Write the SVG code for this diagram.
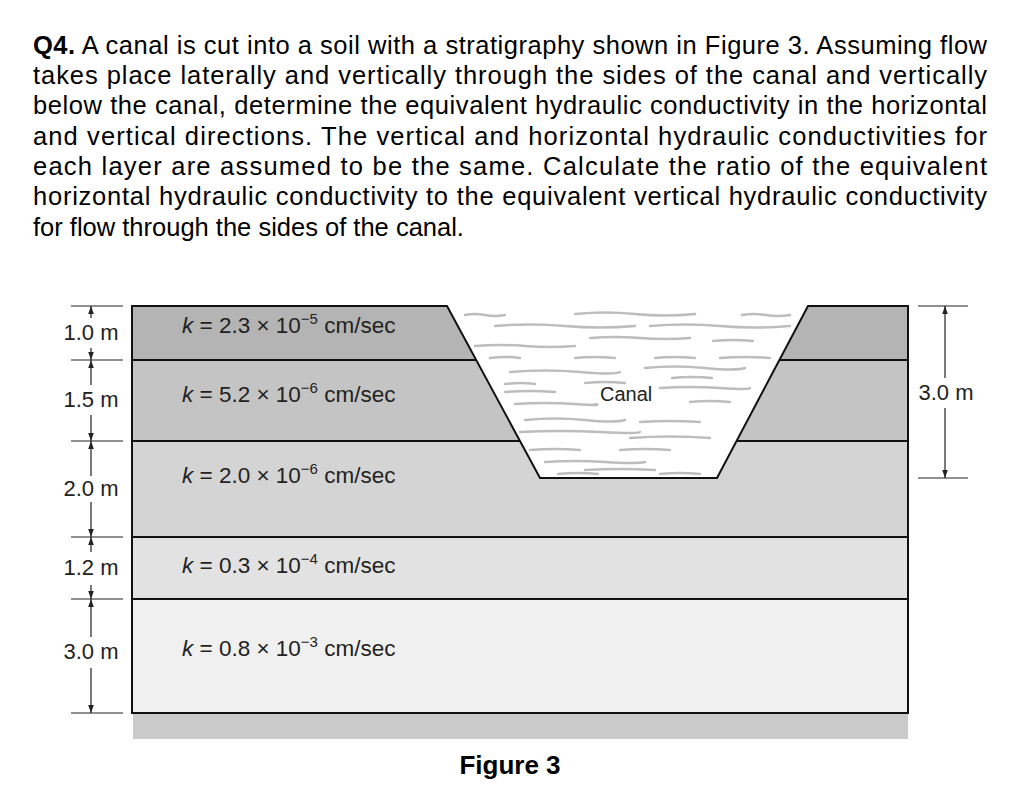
<svg xmlns="http://www.w3.org/2000/svg" width="1024" height="800" viewBox="0 0 1024 800">
<defs>
<marker id="ah" viewBox="0 0 10 10" refX="10" refY="5" markerWidth="7" markerHeight="7" orient="auto-start-reverse"><path d="M0,1.5 L10,5 L0,8.5 z" fill="#222"/></marker>
<style>
.lay{stroke:#111;stroke-width:2}
.dim{stroke:#222;stroke-width:1.2;fill:none}
.w{stroke:#bdbdbd;stroke-width:2.5;fill:none;stroke-linecap:round}
</style>
</defs>
<rect width="1024" height="800" fill="#fff"/>
<g id="question" font-family="Liberation Sans, Arial, sans-serif" font-size="25.5" fill="#000">
<text x="33" y="54" textLength="954" lengthAdjust="spacing"><tspan font-weight="bold">Q4.</tspan> A canal is cut into a soil with a stratigraphy shown in Figure 3. Assuming flow</text>
<text x="33" y="84" textLength="954" lengthAdjust="spacing">takes place laterally and vertically through the sides of the canal and vertically</text>
<text x="33" y="114" textLength="954" lengthAdjust="spacing">below the canal, determine the equivalent hydraulic conductivity in the horizontal</text>
<text x="33" y="145" textLength="954" lengthAdjust="spacing">and vertical directions. The vertical and horizontal hydraulic conductivities for</text>
<text x="33" y="175" textLength="954" lengthAdjust="spacing">each layer are assumed to be the same. Calculate the ratio of the equivalent</text>
<text x="33" y="205" textLength="954" lengthAdjust="spacing">horizontal hydraulic conductivity to the equivalent vertical hydraulic conductivity</text>
<text x="33" y="236">for flow through the sides of the canal.</text>
</g>
<g id="soil">
<rect x="133" y="713" width="775" height="26" fill="#cbcbcb"/>
<rect x="132" y="306" width="776" height="54" fill="#b4b4b4"/>
<rect x="132" y="360" width="776" height="81" fill="#c4c4c4"/>
<rect x="132" y="441" width="776" height="96" fill="#d4d4d4"/>
<rect x="132" y="537" width="776" height="62" fill="#e2e2e2"/>
<rect x="132" y="599" width="776" height="114" fill="#f0f0f0"/>
<line class="lay" x1="132" y1="360" x2="908" y2="360"/>
<line class="lay" x1="132" y1="441" x2="908" y2="441"/>
<line class="lay" x1="132" y1="537" x2="908" y2="537"/>
<line class="lay" x1="132" y1="599" x2="908" y2="599"/>
<path d="M447,306 L540,478 L717,478 L808,306 Z" fill="#fff"/>
<path class="lay" fill="none" d="M132,306 L447,306 L540,478 L717,478 L808,306 L908,306 L908,713 L132,713 Z"/>
</g>
<g id="water">
<path class="w" d="M465,315 q10,-2 20,0 t20,0"/>
<path class="w" d="M575,314 q30,-3 60,0 t60,0"/>
<path class="w" d="M742,315 q12,-2 24,0 t24,0"/>
<path class="w" d="M495,326 q35,-3 70,0 t70,0"/>
<path class="w" d="M650,326 q35,-3 70,0 t70,0"/>
<path class="w" d="M590,338 q25,-2 50,0 t50,0"/>
<path class="w" d="M713,341 q20,-2 40,0"/>
<path class="w" d="M475,346 q25,-2 50,0 t50,0"/>
<path class="w" d="M490,358 q15,-2 30,0"/>
<path class="w" d="M575,358 q20,-2 40,0"/>
<path class="w" d="M655,358 q20,-2 40,0"/>
<path class="w" d="M720,358 q25,-2 50,0"/>
<path class="w" d="M510,372 q35,-3 70,0 t40,0"/>
<path class="w" d="M645,368 q30,-3 60,0 t40,0"/>
<path class="w" d="M672,378 q20,-2 40,0"/>
<path class="w" d="M505,384 q15,-2 30,0"/>
<path class="w" d="M585,383 q20,-2 40,0"/>
<path class="w" d="M505,392 q25,-2 50,0"/>
<path class="w" d="M660,388 q30,-2 60,0 t30,0"/>
<path class="w" d="M515,404 q30,-2 60,0 t20,0"/>
<path class="w" d="M690,402 q20,-2 40,0"/>
<path class="w" d="M525,420 q30,-3 60,0 t40,0"/>
<path class="w" d="M640,422 q30,-2 60,0"/>
<path class="w" d="M520,432 q40,-2 80,0 t40,0"/>
<path class="w" d="M630,438 q40,-3 80,0"/>
<path class="w" d="M530,450 q25,-2 50,0"/>
<path class="w" d="M620,450 q25,-2 50,0"/>
<path class="w" d="M545,462 q30,-2 60,0 t40,0"/>
<path class="w" d="M585,470 q35,-2 70,0"/>
<path class="w" d="M558,474 q20,-2 40,0"/>
<path class="w" d="M660,474 q20,-2 40,0"/>
<text x="600" y="401" font-family="Liberation Sans, Arial, sans-serif" font-size="20" fill="#222">Canal</text>
</g>
<g id="labels" font-family="Liberation Sans, Arial, sans-serif" font-size="22.5" fill="#222">
<text x="182" y="333"><tspan font-style="italic">k</tspan> = 2.3 × 10<tspan dy="-9" font-size="15">−5</tspan><tspan dy="9"> cm/sec</tspan></text>
<text x="182" y="402"><tspan font-style="italic">k</tspan> = 5.2 × 10<tspan dy="-9" font-size="15">−6</tspan><tspan dy="9"> cm/sec</tspan></text>
<text x="182" y="483"><tspan font-style="italic">k</tspan> = 2.0 × 10<tspan dy="-9" font-size="15">−6</tspan><tspan dy="9"> cm/sec</tspan></text>
<text x="182" y="573"><tspan font-style="italic">k</tspan> = 0.3 × 10<tspan dy="-9" font-size="15">−4</tspan><tspan dy="9"> cm/sec</tspan></text>
<text x="182" y="656"><tspan font-style="italic">k</tspan> = 0.8 × 10<tspan dy="-9" font-size="15">−3</tspan><tspan dy="9"> cm/sec</tspan></text>
</g>
<g id="connectors">
<line class="dim" x1="71" y1="306" x2="123" y2="306"/>
<line class="dim" x1="71" y1="360" x2="123" y2="360"/>
<line class="dim" x1="71" y1="441" x2="123" y2="441"/>
<line class="dim" x1="71" y1="537" x2="123" y2="537"/>
<line class="dim" x1="71" y1="599" x2="123" y2="599"/>
<line class="dim" x1="71" y1="713" x2="123" y2="713"/>
<line class="dim" x1="91" y1="318" x2="91" y2="306" marker-end="url(#ah)"/>
<line class="dim" x1="91" y1="348" x2="91" y2="360" marker-end="url(#ah)"/>
<line class="dim" x1="91" y1="385" x2="91" y2="360" marker-end="url(#ah)"/>
<line class="dim" x1="91" y1="415" x2="91" y2="441" marker-end="url(#ah)"/>
<line class="dim" x1="91" y1="476" x2="91" y2="441" marker-end="url(#ah)"/>
<line class="dim" x1="91" y1="502" x2="91" y2="537" marker-end="url(#ah)"/>
<line class="dim" x1="91" y1="552" x2="91" y2="537" marker-end="url(#ah)"/>
<line class="dim" x1="91" y1="585" x2="91" y2="599" marker-end="url(#ah)"/>
<line class="dim" x1="91" y1="637" x2="91" y2="599" marker-end="url(#ah)"/>
<line class="dim" x1="91" y1="668" x2="91" y2="713" marker-end="url(#ah)"/>
<line class="dim" x1="918" y1="306" x2="968" y2="306"/>
<line class="dim" x1="918" y1="478" x2="968" y2="478"/>
<line class="dim" x1="945" y1="378" x2="945" y2="306" marker-end="url(#ah)"/>
<line class="dim" x1="945" y1="408" x2="945" y2="478" marker-end="url(#ah)"/>
</g>
<g id="dims" font-family="Liberation Sans, Arial, sans-serif" font-size="22" fill="#222" text-anchor="middle">
<text x="91" y="340">1.0 m</text>
<text x="91" y="407">1.5 m</text>
<text x="91" y="496">2.0 m</text>
<text x="91" y="575">1.2 m</text>
<text x="91" y="659">3.0 m</text>
<text x="946" y="400">3.0 m</text>
</g>
<text x="510" y="774" text-anchor="middle" font-family="Liberation Sans, Arial, sans-serif" font-size="26" font-weight="bold">Figure 3</text>
</svg>
